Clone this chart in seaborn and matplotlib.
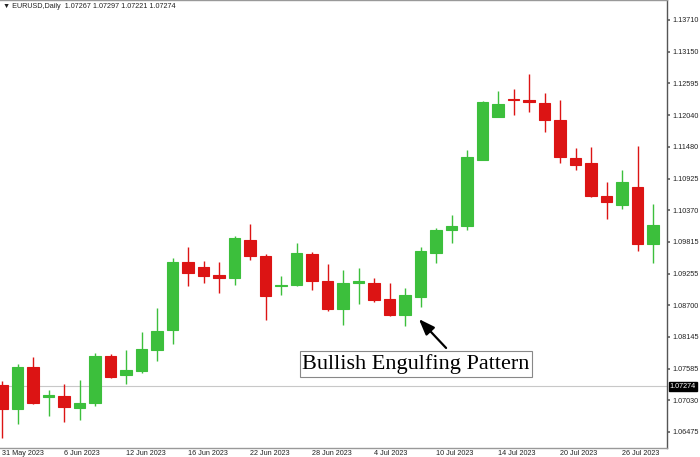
import numpy as np
import pandas as pd
import matplotlib
matplotlib.use("Agg")
import matplotlib.pyplot as plt
import seaborn as sns

# daily EURUSD candles
dates = ["31 May", "1 Jun", "2 Jun", "5 Jun", "6 Jun", "7 Jun", "8 Jun", "9 Jun",
         "12 Jun", "13 Jun", "14 Jun", "15 Jun", "16 Jun", "19 Jun", "20 Jun", "21 Jun",
         "22 Jun", "23 Jun", "26 Jun", "27 Jun", "28 Jun", "29 Jun", "30 Jun", "3 Jul",
         "4 Jul", "5 Jul", "6 Jul", "7 Jul", "10 Jul", "11 Jul", "12 Jul", "13 Jul",
         "14 Jul", "17 Jul", "18 Jul", "19 Jul", "20 Jul", "21 Jul", "24 Jul", "25 Jul",
         "26 Jul", "27 Jul", "28 Jul"]
opens = [1.07303, 1.06880, 1.07620, 1.07092, 1.07109, 1.06898, 1.06986, 1.07814,
         1.07479, 1.07550, 1.07920, 1.08272, 1.09453, 1.09365, 1.09224, 1.09171,
         1.09841, 1.09558, 1.09030, 1.09065, 1.09594, 1.09118, 1.08642, 1.09100,
         1.09100, 1.08818, 1.08536, 1.08854, 1.09611, 1.10017, 1.10087, 1.11250,
         1.12008, 1.12325, 1.12307, 1.12254, 1.11955, 1.11285, 1.11197, 1.10616,
         1.10457, 1.10774, 1.09770]
highs = [1.07374, 1.07673, 1.07796, 1.07215, 1.07321, 1.07391, 1.07867, 1.07849,
         1.07920, 1.08237, 1.08660, 1.09523, 1.09717, 1.09470, 1.09453, 1.09911,
         1.10122, 1.09594, 1.09206, 1.09788, 1.09629, 1.09417, 1.09312, 1.09347,
         1.09171, 1.09083, 1.08995, 1.09717, 1.10052, 1.10281, 1.11426, 1.12290,
         1.12466, 1.12501, 1.12765, 1.12431, 1.12307, 1.11461, 1.11479, 1.10862,
         1.11074, 1.11497, 1.10475]
lows = [1.06369, 1.06616, 1.06968, 1.06757, 1.06651, 1.06686, 1.06933, 1.07426,
        1.07321, 1.07515, 1.07726, 1.08026, 1.09030, 1.09083, 1.08924, 1.09065,
        1.09488, 1.08448, 1.08889, 1.09047, 1.08977, 1.08607, 1.08360, 1.08730,
        1.08766, 1.08519, 1.08343, 1.08677, 1.09435, 1.09788, 1.10017, 1.11250,
        1.12008, 1.12043, 1.12096, 1.11743, 1.11197, 1.11074, 1.10598, 1.10210,
        1.10387, 1.09647, 1.09435]
closes = [1.06880, 1.07620, 1.06986, 1.07127, 1.06915, 1.06986, 1.07814, 1.07444,
          1.07567, 1.07937, 1.08255, 1.09453, 1.09259, 1.09206, 1.09171, 1.09876,
          1.09558, 1.08871, 1.09065, 1.09611, 1.09118, 1.08642, 1.09083, 1.09118,
          1.08801, 1.08536, 1.08889, 1.09647, 1.10017, 1.10087, 1.11303, 1.12272,
          1.12237, 1.12307, 1.12272, 1.11955, 1.11303, 1.11162, 1.10616, 1.10510,
          1.10862, 1.09770, 1.10105]

price_ticks = [1.06475, 1.07030, 1.07585, 1.08145, 1.08700, 1.09255, 1.09815,
               1.10370, 1.10925, 1.11480, 1.12040, 1.12595, 1.13150, 1.13710]
date_ticks = ["31 May 2023", "6 Jun 2023", "12 Jun 2023", "16 Jun 2023", "22 Jun 2023",
              "28 Jun 2023", "4 Jul 2023", "10 Jul 2023", "14 Jul 2023", "20 Jul 2023",
              "26 Jul 2023"]
last_price = 1.07274
header = "EURUSD,Daily  1.07267 1.07297 1.07221 1.07274"

df = pd.DataFrame({"date": dates, "open": opens, "high": highs,
                   "low": lows, "close": closes})
df["i"] = np.arange(len(df))
df["up"] = df["close"] >= df["open"]

sns.set_theme(style="white")
plt.rcParams["font.family"] = ["Liberation Sans", "DejaVu Sans"]

GREEN = "#3cbf3c"
RED = "#dc1414"
SMALL = 5.2

fig = plt.figure(figsize=(7, 4.57), dpi=100)
ax = fig.add_axes([0, 9 / 457, 667 / 700, 448 / 457])

colors = np.where(df["up"], GREEN, RED)
ax.vlines(df["i"], df["low"], df["high"], colors=colors, linewidth=1.0, zorder=2)
body_lo = df[["open", "close"]].min(axis=1)
body_h = (df["open"] - df["close"]).abs()
ax.bar(df["i"], body_h, bottom=body_lo, width=0.72, color=colors,
       edgecolor=colors, linewidth=0.8, zorder=3)

# current price line
ax.axhline(last_price, color="#c8c8c8", linewidth=0.8, zorder=1)

ax.set_xlim(-0.13, 42.9)
ax.set_ylim(1.06194, 1.14061)

ax.set_xticks(df["i"].iloc[::4])
ax.set_xticklabels(date_ticks, ha="left", fontsize=SMALL, color="#222222")
ax.tick_params(axis="x", direction="in", length=3, pad=1.5, color="#666666")

ax.yaxis.tick_right()
ax.set_yticks(price_ticks)
ax.set_yticklabels([f"{p:.5f}" for p in price_ticks], fontsize=SMALL, color="#222222")
ax.tick_params(axis="y", direction="out", length=2.5, pad=1.2, color="#666666")

ax.spines["left"].set_visible(False)
ax.spines["right"].set_color("#555555")
ax.spines["bottom"].set_color("#999999")
ax.spines["top"].set_color("#999999")
for s in ["right", "bottom", "top"]:
    ax.spines[s].set_linewidth(1.0)

# price tag on right axis
ax.text(1.004, last_price, f"{last_price:.5f}", transform=ax.get_yaxis_transform(),
        fontsize=SMALL, color="white", va="center", ha="left",
        bbox=dict(boxstyle="square,pad=0.15", facecolor="black", edgecolor="black"))

ax.text(0.004, 0.985, "\u25bc " + header, transform=ax.transAxes, fontsize=SMALL,
        color="#222222", va="center", ha="left")

# annotation
ax.annotate("", xy=(26.77, 1.08494), xytext=(28.77, 1.07915),
            arrowprops=dict(arrowstyle="-|>,head_length=0.8,head_width=0.3",
                            color="black", lw=1.6), zorder=5)
ax.text(26.7, 1.07669, "Bullish Engulfing Pattern", family="Liberation Serif",
        fontsize=16, color="black", ha="center", va="center", zorder=6,
        bbox=dict(boxstyle="square,pad=0.12", facecolor="white",
                  edgecolor="#888888", linewidth=0.8))

fig.savefig("out.png", dpi=100)
